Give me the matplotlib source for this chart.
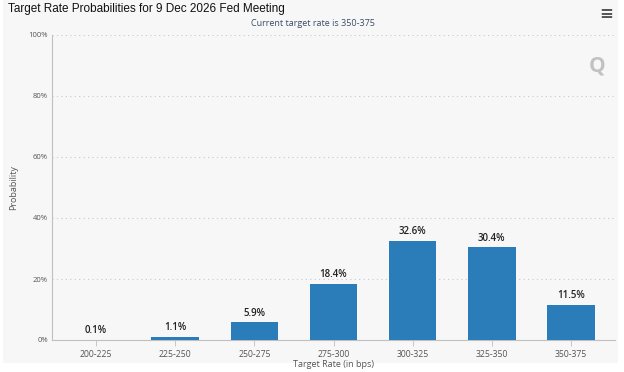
import matplotlib.pyplot as plt
from matplotlib.patches import Rectangle
from matplotlib.ticker import FuncFormatter

# data
rate_ranges = ["200-225", "225-250", "250-275", "275-300", "300-325", "325-350", "350-375"]
probabilities = [0.1, 1.1, 5.9, 18.4, 32.6, 30.4, 11.5]
y_ticks = [0, 20, 40, 60, 80, 100]

title = "Target Rate Probabilities for 9 Dec 2026 Fed Meeting"
subtitle = "Current target rate is 350-375"

bar_color = "#2a7db8"
bg_color = "#f7f7f7"
tick_color = "#555555"

plt.rcParams["font.family"] = ["Open Sans", "DejaVu Sans"]

fig = plt.figure(figsize=(6.24, 3.72), dpi=100)
fig.patch.set_facecolor("white")

# light grey card behind the chart
fig.patches.append(Rectangle((3 / 624, 1 - 363 / 372), 615 / 624, 363 / 372,
                             transform=fig.transFigure, facecolor=bg_color,
                             edgecolor="none", zorder=-10))

ax = fig.add_axes([52 / 624, 1 - 340 / 372, 563 / 624, 305 / 372])
ax.patch.set_alpha(0)

x = list(range(len(rate_ranges)))
ax.bar(x, probabilities, width=0.6, color=bar_color, zorder=3)

for xi, val in zip(x, probabilities):
    ax.annotate(f"{val}%", (xi, val), xytext=(0, 2.5), textcoords="offset points",
                ha="center", va="bottom", fontsize=7, color="#222222",
                fontweight="semibold")

ax.set_xlim(-0.557, 6.557)
ax.set_ylim(0, 100)
ax.set_xticks(x)
ax.set_xticklabels(rate_ranges)
ax.set_yticks(y_ticks)
ax.yaxis.set_major_formatter(FuncFormatter(lambda v, p: f"{int(v)}%"))

ax.tick_params(axis="x", labelsize=6.2, labelcolor=tick_color, color="#c0c0c0",
               length=4, width=0.6, pad=3)
ax.tick_params(axis="y", labelsize=5.5, labelcolor=tick_color, length=0, pad=3)

ax.grid(axis="y", linestyle=(0, (1, 3)), color="#c8c8c8", linewidth=0.8, zorder=0)
ax.set_axisbelow(True)

for side in ["top", "right"]:
    ax.spines[side].set_visible(False)
for side in ["left", "bottom"]:
    ax.spines[side].set_color("#c0c0c0")
    ax.spines[side].set_linewidth(0.8)

ax.set_xlabel("Target Rate (in bps)", fontsize=6.5, color=tick_color, labelpad=1)
ax.set_ylabel("Probability", fontsize=6.5, color=tick_color)
ax.yaxis.set_label_coords(-(52 - 18) / 563, 0.5)

fig.text(8 / 624, 1 - 9 / 372, title, fontsize=8.5, color="#111111",
         ha="left", va="center", family=["Liberation Sans", "DejaVu Sans"])
fig.text(313 / 624, 1 - 23 / 372, subtitle, fontsize=6.5, color="#3b4d66",
         ha="center", va="center")

# menu icon and watermark
fig.text(606 / 624, 1 - 14 / 372, "\u2261", fontsize=12, color="#555555",
         ha="center", va="center", fontweight="bold",
         family=["DejaVu Sans"])
fig.text(597 / 624, 1 - 66 / 372, "Q", fontsize=15, color="#c2c2c2",
         ha="center", va="center", fontweight="bold")

fig.savefig("out.png", dpi=100, facecolor=fig.get_facecolor())
